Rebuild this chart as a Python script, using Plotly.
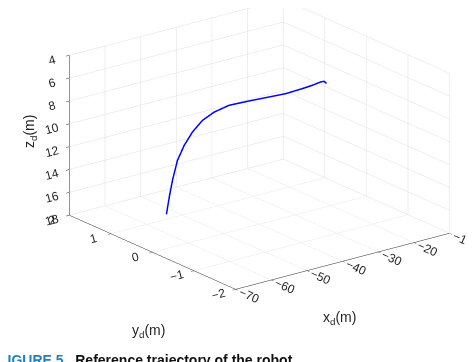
import plotly.graph_objects as go

# trajectory samples
x_d = [-66.1, -65.3, -64.4, -63.0, -61.1, -58.8, -56.0, -52.7, -48.5, -42.9, -37.3, -32.6, -27.9, -25.1, -22.8, -21.9, -21.2]
y_d = [0.0] * 17
z_d = [15.0, 13.54, 12.16, 10.52, 9.36, 8.39, 7.60, 7.14, 6.89, 6.97, 7.08, 7.17, 7.11, 7.05, 6.95, 6.97, 7.22]

x_ticks = [-70, -60, -50, -40, -30, -20, -10]
y_ticks = [-2, -1, 0, 1, 2]
z_ticks = [4, 6, 8, 10, 12, 14, 16, 18]

fig = go.Figure()
fig.add_trace(go.Scatter3d(x=x_d, y=y_d, z=z_d, mode="lines",
                           line=dict(color="#0000ff", width=3), showlegend=False,
                           hoverinfo="skip"))

font = dict(family="Liberation Sans, Arial", size=12, color="#262626")
tfont = dict(size=14, family="Liberation Sans, Arial", color="#262626")
axis_common = dict(showbackground=False, gridcolor="#dedede", gridwidth=1,
                   showline=True, linecolor="#262626", linewidth=1,
                   ticks="outside", tickcolor="#262626", ticklen=4,
                   tickfont=font, zeroline=False, showspikes=False,
                   title=dict(text=""))

fig.update_layout(
    width=474, height=362,
    margin=dict(l=0, r=0, t=0, b=0),
    paper_bgcolor="white",
    font=font,
    scene=dict(
        domain=dict(x=[0, 1], y=[0, 1]),
        xaxis=dict(range=[-70, -10], tickvals=x_ticks, **axis_common),
        yaxis=dict(range=[-2, 2], tickvals=y_ticks, **axis_common),
        zaxis=dict(range=[18, 4], tickvals=z_ticks, **axis_common),
        aspectmode="manual",
        aspectratio=dict(x=1.49, y=1.51, z=0.94),
        camera=dict(eye=dict(x=-0.8588, y=-0.9877, z=0.2124),
                    up=dict(x=0, y=0, z=1),
                    center=dict(x=-0.1149, y=-0.0183, z=-0.2322),
                    projection=dict(type="orthographic")),
    ),
    annotations=[
        dict(text="x<sub>d</sub>(m)", xref="paper", yref="paper", x=0.700, y=0.1436,
             xanchor="center", yanchor="middle", showarrow=False, font=tfont),
        dict(text="y<sub>d</sub>(m)", xref="paper", yref="paper", x=0.2954, y=0.1077,
             xanchor="center", yanchor="middle", showarrow=False, font=tfont),
        dict(text="z<sub>d</sub>(m)", xref="paper", yref="paper", x=0.0464, y=0.660,
             xanchor="center", yanchor="middle", textangle=-90, showarrow=False, font=tfont),
        dict(text="<b><span style='color:#1f7fc0'>FIGURE 5.</span>  Reference trajectory of the robot</b>",
             xref="paper", yref="paper", x=0, y=0.029, xanchor="left", yanchor="middle",
             xshift=-11, showarrow=False,
             font=dict(size=14, family="Liberation Sans, Arial", color="#111")),
    ],
)

fig.write_html("out.html")
